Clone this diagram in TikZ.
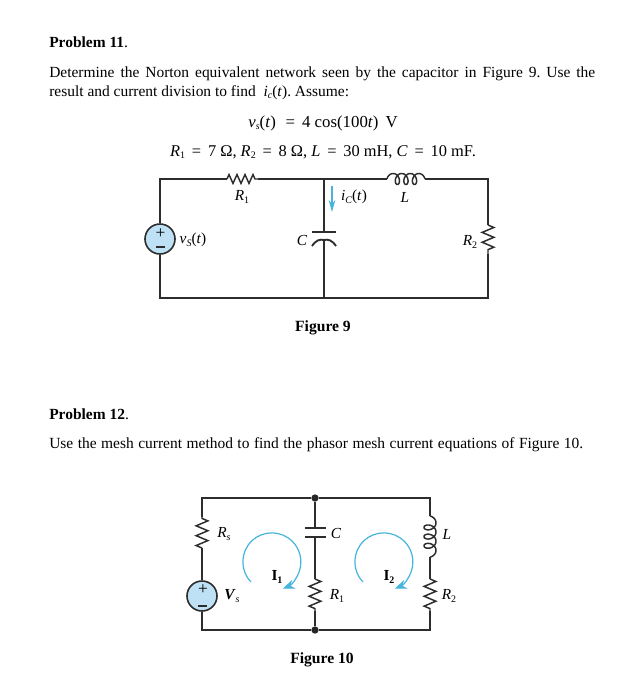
\documentclass[tikz,border=0pt]{standalone}
\usepackage{fontspec}
\setmainfont{Liberation Serif}
\usetikzlibrary{decorations.pathmorphing,arrows.meta}
\definecolor{wirecol}{RGB}{45,45,45}
\definecolor{srcfill}{RGB}{190,225,245}
\definecolor{loopcol}{RGB}{70,180,220}
\newcommand{\subsc}[1]{\raisebox{-0.35ex}{\fontsize{7.5}{8}\selectfont #1}}
\tikzset{
  wire/.style={draw=wirecol,line width=1.3pt},
  coilw/.style={draw=wirecol,line width=1.1pt},
  resa/.style={wire,line width=1.1pt,decoration={zigzag,segment length=6pt,amplitude=3.3pt},decorate},
  resb/.style={wire,line width=1.1pt,decoration={zigzag,segment length=7.4pt,amplitude=4.4pt},decorate},
  source/.style={circle,draw=wirecol,line width=1.2pt,fill=srcfill,minimum size=22.5pt,inner sep=0pt},
  junct/.style={circle,fill=black!85,minimum size=5.5pt,inner sep=0pt},
  para/.style={anchor=base west,inner sep=0pt,font=\fontsize{11.6}{13}\selectfont},
  eqn/.style={anchor=base,inner sep=0pt,font=\fontsize{11.7}{13}\selectfont},
  mathl/.style={anchor=base,inner sep=0pt,font=\fontsize{12.6}{14}\selectfont},
  mathm/.style={anchor=base,inner sep=0pt,font=\fontsize{12.3}{14}\selectfont},
  lab/.style={inner sep=0pt,font=\fontsize{11.5}{12}\selectfont},
  signs/.style={inner sep=0pt,font=\fontsize{13}{14}\selectfont},
  loopa/.style={draw=loopcol,line width=0.9pt,-{Stealth[length=9pt,width=7pt]}},
  plate/.style={wire,line width=1.4pt}
}
\begin{document}
\frenchspacing
\begin{tikzpicture}[x=0.75pt,y=-0.75pt]
\useasboundingbox (0,0) rectangle (642,700);
\fill[white] (0,0) rectangle (642,700);
% text
\node[para] (p11) at (49,47) {\textbf{Problem 11}.};
\node[para] (l1) at (49,77) {\hbox to 409.5pt{Determine the Norton equivalent network seen by the capacitor in Figure 9. Use the}};
\node[para] (l2) at (49,96) {result and current division to find\ \ \textit{i}\subsc{\textit{c}}(\textit{t}). Assume:};
\node[mathl] (e1) at (323,127) {\textit{v}\subsc{\textit{s}}(\textit{t})\,\, = \,4 cos(100\textit{t})\, V};
\node[mathm] (e2) at (323,156) {\textit{R}\subsc{1}\, = \,7 Ω,\ \textit{R}\subsc{2}\, = \,8 Ω,\ \textit{L}\, = \,30 mH,\ \textit{C}\, = \,10 mF.};
\node[eqn] (f9) at (323,331) {\textbf{Figure 9}};
\node[para] (p12) at (49,419) {\textbf{Problem 12}.};
\node[para] (l3) at (49,448) {\hbox to 400.5pt{Use the mesh current method to find the phasor mesh current equations of Figure 10.}};
\node[eqn] (f10) at (322,663) {\textbf{Figure 10}};

% Figure 9
\coordinate (a1) at (160,179);
\coordinate (r1a) at (227,179);
\coordinate (r1b) at (258,179);
\coordinate (top9) at (324,179);
\coordinate (la) at (387,179);
\coordinate (lb) at (425,179);
\coordinate (a2) at (488,179);
\coordinate (r2a) at (488,225);
\coordinate (r2b) at (488,254);
\coordinate (a3) at (488,298);
\coordinate (bot9) at (324,298);
\coordinate (a4) at (160,298);
\coordinate (cpa) at (324,232);
\coordinate (cpb) at (324,240);
\node[source] (vs9) at (160,239) {};
\draw[wire] (vs9) -- (a1) -- (r1a);
\draw[resa] (r1a) -- (r1b);
\draw[wire] (r1b) -- (top9) -- (la);
\draw[coilw] plot[smooth,domain=-0.25:3.25,samples=110] ({393.1+8.57*\x+4*sin(360*\x)},{179-5.5*cos(360*\x)});
\draw[wire] (lb) -- (a2) -- (r2a);
\draw[resb] (r2a) -- (r2b);
\draw[wire] (r2b) -- (a3) -- (a4) -- (vs9);
\draw[wire] (top9) -- (cpa);
\draw[plate] (312,232) -- (336,232);
\draw[plate] (312,246) .. controls (316,240) and (320,239) .. (cpb) .. controls (328,239) and (332,240) .. (336,246);
\draw[wire] (cpb) -- (bot9);
\node[signs] (vsp) at (160.5,233.5) {+};
\draw[wire,line width=1pt] (156,247) -- (165,247);
\coordinate (arA) at (332,186);
\coordinate (arB) at (332,212);
\draw[draw=loopcol,line width=0.9pt,-{Stealth[length=9pt,width=5pt]}] (arA) -- (arB);
\node[lab] (lr1) at (242,197) {\textit{R}\subsc{1}};
\node[lab] (lic) at (354,197) {\textit{i}\subsc{\textit{C}}(\textit{t})};
\node[lab] (ll) at (405,197) {\textit{L}};
\node[lab] (lc) at (302,240) {\textit{C}};
\node[lab] (lr2) at (470,242) {\textit{R}\subsc{2}};
\node[lab] (lvs) at (193,240) {\textit{v}\subsc{\textit{S}}(\textit{t})};

% Figure 10
\coordinate (b1) at (202,498);
\coordinate (b2) at (430,498);
\coordinate (b3) at (430,630);
\coordinate (b4) at (202,630);
\coordinate (rsa) at (202,517);
\coordinate (rsb) at (202,548);
\coordinate (c1) at (315,528);
\coordinate (c2) at (315,537);
\coordinate (r1c) at (315,579);
\coordinate (r1d) at (315,611);
\coordinate (l2a) at (430,516);
\coordinate (l2b) at (430,557);
\coordinate (r2c) at (430,579);
\coordinate (r2d) at (430,611);
\node[source] (vs10) at (202,596) {};
\node[junct] (top10) at (315,498) {};
\node[junct] (bot10) at (315,630) {};
\draw[wire] (vs10) -- (rsb);
\draw[resb] (rsb) -- (rsa);
\draw[wire] (rsa) -- (b1) -- (top10) -- (b2) -- (l2a);
\draw[coilw] plot[smooth,domain=-0.25:3.25,samples=110] ({430+6*cos(360*\x)},{522.8+9.2*\x+4.5*sin(360*\x)});
\draw[wire] (l2b) -- (r2c);
\draw[resb] (r2c) -- (r2d);
\draw[wire] (r2d) -- (b3) -- (bot10) -- (b4) -- (vs10);
\draw[wire] (top10) -- (c1);
\draw[plate] (305,528) -- (326,528);
\draw[plate] (305,537) -- (326,537);
\draw[wire] (c2) -- (r1c);
\draw[resb] (r1c) -- (r1d);
\draw[wire] (r1d) -- (bot10);
\node[signs] (vp10) at (203,590) {+};
\draw[wire,line width=1pt] (198,606) -- (207,606);
\node[lab] (lrs) at (224,534) {\textit{R}\subsc{\textit{s}}};
\node[lab] (lvs10) at (232,596) {\textit{\textbf{V}}\subsc{\textit{s}}};
\node[lab] (lcc) at (336,533) {\textit{C}};
\node[lab] (lr1b) at (337,596) {\textit{R}\subsc{1}};
\node[lab] (ll2) at (447,534) {\textit{L}};
\node[lab] (lr2b) at (449,596) {\textit{R}\subsc{2}};
\node[lab] (li1) at (277,577) {\textbf{I}\subsc{\textbf{1}}};
\node[lab] (li2) at (389,577) {\textbf{I}\subsc{\textbf{2}}};
\draw[loopa] (251,582) arc (136:428:29);
\draw[loopa] (363,582) arc (136:428:29);
\end{tikzpicture}
\end{document}
